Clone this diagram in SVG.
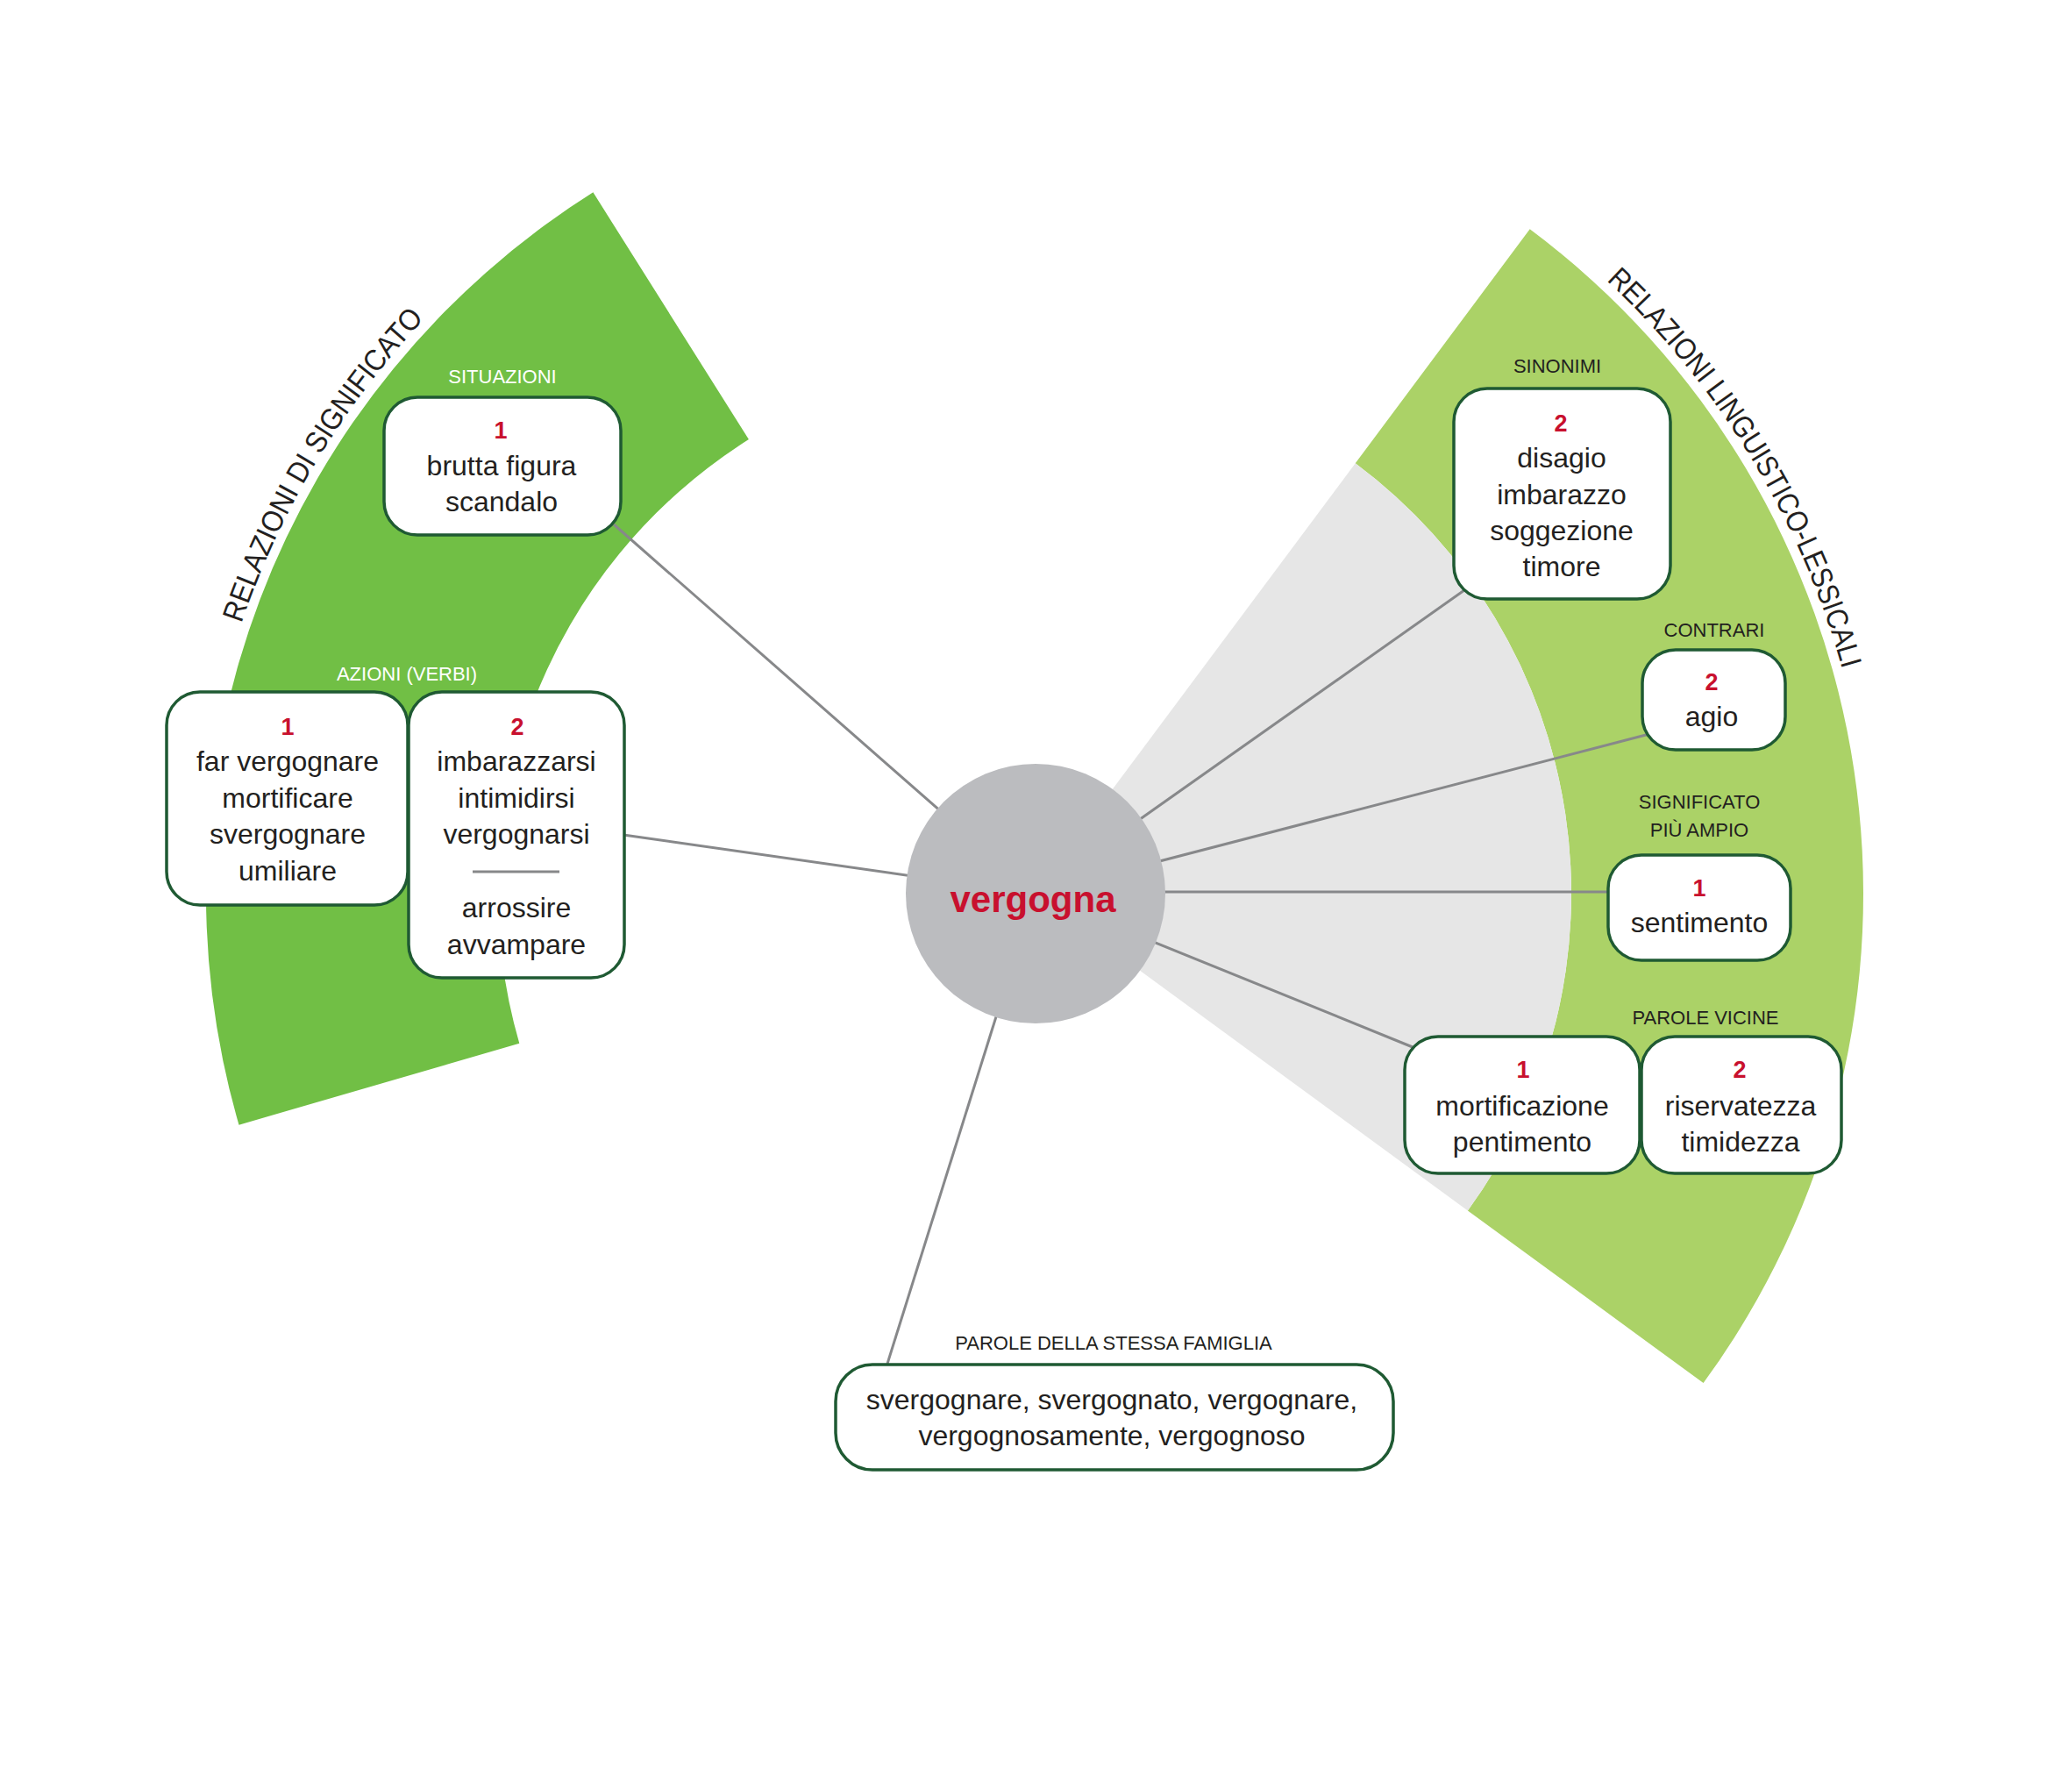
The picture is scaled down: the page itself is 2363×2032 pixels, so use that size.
<svg xmlns="http://www.w3.org/2000/svg" width="2363" height="2032" viewBox="0 0 2363 2032">
<style>
.box{fill:#ffffff;stroke:#1f5a33;stroke-width:3.5}
.t{font-family:"Liberation Sans",Arial,sans-serif;font-size:32px;fill:#231f20;text-anchor:middle}
.n{font-family:"Liberation Sans",Arial,sans-serif;font-size:27px;font-weight:bold;fill:#c8102e;text-anchor:middle}
.lw{font-family:"Liberation Sans",Arial,sans-serif;font-size:22px;fill:#ffffff;text-anchor:middle}
.ld{font-family:"Liberation Sans",Arial,sans-serif;font-size:22px;fill:#231f20;text-anchor:middle}
.arc{font-family:"Liberation Sans",Arial,sans-serif;font-size:34px;fill:#231f20}
.conn{stroke:#87888a;stroke-width:3;fill:none}
</style>
<defs>
<path id="arcL" d="M 275.4 711 A 956 956 0 0 1 515.9 331.3"/>
<path id="arcR" d="M 1832 319.8 A 956 956 0 0 1 2121.5 853"/>
</defs>
<rect x="0" y="0" width="2363" height="2032" fill="#ffffff"/>

<g id="sectors">
<path d="M 272.5 1282.7 A 945 945 0 0 1 676.4 219.3 L 853.9 501.1 A 612 612 0 0 0 592.3 1189.7 Z" fill="#71bf45"/>
<path d="M 1744.7 261.3 A 945 945 0 0 1 1942.6 1577.1 L 1673.9 1380.4 A 612 612 0 0 0 1545.7 528.3 Z" fill="#abd267"/>
<path d="M 1180 1019 L 1545.7 528.3 A 612 612 0 0 1 1673.9 1380.4 Z" fill="#e6e6e6"/>
<text class="arc"><textPath href="#arcL" textLength="408" lengthAdjust="spacingAndGlyphs">RELAZIONI DI SIGNIFICATO</textPath></text>
<text class="arc"><textPath href="#arcR" textLength="525" lengthAdjust="spacingAndGlyphs">RELAZIONI LINGUISTICO-LESSICALI</textPath></text>
</g>

<g id="connectors">
<line class="conn" x1="1180" y1="1019" x2="700" y2="598"/>
<line class="conn" x1="1180" y1="1019" x2="711" y2="952"/>
<line class="conn" x1="1180" y1="1019" x2="1670" y2="673"/>
<line class="conn" x1="1180" y1="1019" x2="1881" y2="837"/>
<line class="conn" x1="1180" y1="1017" x2="1834" y2="1017"/>
<line class="conn" x1="1180" y1="1019" x2="1611" y2="1194"/>
<line class="conn" x1="1180" y1="1019" x2="1012" y2="1555"/>
</g>

<g id="center">
<circle cx="1181" cy="1019" r="148" fill="#bbbcbf"/>
<text x="1178" y="1040" font-family="'Liberation Sans',Arial,sans-serif" font-size="42" font-weight="bold" fill="#c8102e" text-anchor="middle">vergogna</text>
</g>

<g id="situazioni">
<text class="lw" x="573" y="437">SITUAZIONI</text>
<rect class="box" x="438" y="453" width="270" height="157" rx="38"/>
<text class="n" x="571" y="500">1</text>
<text class="t" x="572" y="542">brutta figura</text>
<text class="t" x="572" y="583">scandalo</text>
</g>

<g id="azioni1">
<text class="lw" x="464" y="776">AZIONI (VERBI)</text>
<rect class="box" x="190" y="789" width="275" height="243" rx="38"/>
<text class="n" x="328" y="838">1</text>
<text class="t" x="328" y="879">far vergognare</text>
<text class="t" x="328" y="921">mortificare</text>
<text class="t" x="328" y="962">svergognare</text>
<text class="t" x="328" y="1004">umiliare</text>
</g>

<g id="azioni2">
<rect class="box" x="466" y="789" width="246" height="326" rx="38"/>
<text class="n" x="590" y="838">2</text>
<text class="t" x="589" y="879">imbarazzarsi</text>
<text class="t" x="589" y="921">intimidirsi</text>
<text class="t" x="589" y="962">vergognarsi</text>
<line x1="539" y1="994" x2="638" y2="994" stroke="#87888a" stroke-width="3"/>
<text class="t" x="589" y="1046">arrossire</text>
<text class="t" x="589" y="1088">avvampare</text>
</g>

<g id="sinonimi">
<text class="ld" x="1776" y="425">SINONIMI</text>
<rect class="box" x="1658" y="443" width="247" height="240" rx="38"/>
<text class="n" x="1780" y="492">2</text>
<text class="t" x="1781" y="533">disagio</text>
<text class="t" x="1781" y="575">imbarazzo</text>
<text class="t" x="1781" y="616">soggezione</text>
<text class="t" x="1781" y="657">timore</text>
</g>

<g id="contrari">
<text class="ld" x="1955" y="726">CONTRARI</text>
<rect class="box" x="1873" y="741" width="163" height="114" rx="38"/>
<text class="n" x="1952" y="787">2</text>
<text class="t" x="1952" y="828">agio</text>
</g>

<g id="significato">
<text class="ld" x="1938" y="922">SIGNIFICATO</text>
<text class="ld" x="1938" y="954">PIÙ AMPIO</text>
<rect class="box" x="1834" y="975" width="208" height="120" rx="38"/>
<text class="n" x="1938" y="1022">1</text>
<text class="t" x="1938" y="1063">sentimento</text>
</g>

<g id="vicine1">
<text class="ld" x="1945" y="1168">PAROLE VICINE</text>
<rect class="box" x="1602" y="1182" width="268" height="156" rx="38"/>
<text class="n" x="1737" y="1229">1</text>
<text class="t" x="1736" y="1272">mortificazione</text>
<text class="t" x="1736" y="1313">pentimento</text>
</g>

<g id="vicine2">
<rect class="box" x="1872" y="1182" width="228" height="156" rx="38"/>
<text class="n" x="1984" y="1229">2</text>
<text class="t" x="1985" y="1272">riservatezza</text>
<text class="t" x="1985" y="1313">timidezza</text>
</g>

<g id="famiglia">
<text class="ld" x="1270" y="1539">PAROLE DELLA STESSA FAMIGLIA</text>
<rect class="box" x="953" y="1556" width="636" height="120" rx="42"/>
<text class="t" x="1268" y="1607">svergognare, svergognato, vergognare,</text>
<text class="t" x="1268" y="1648">vergognosamente, vergognoso</text>
</g>
</svg>
